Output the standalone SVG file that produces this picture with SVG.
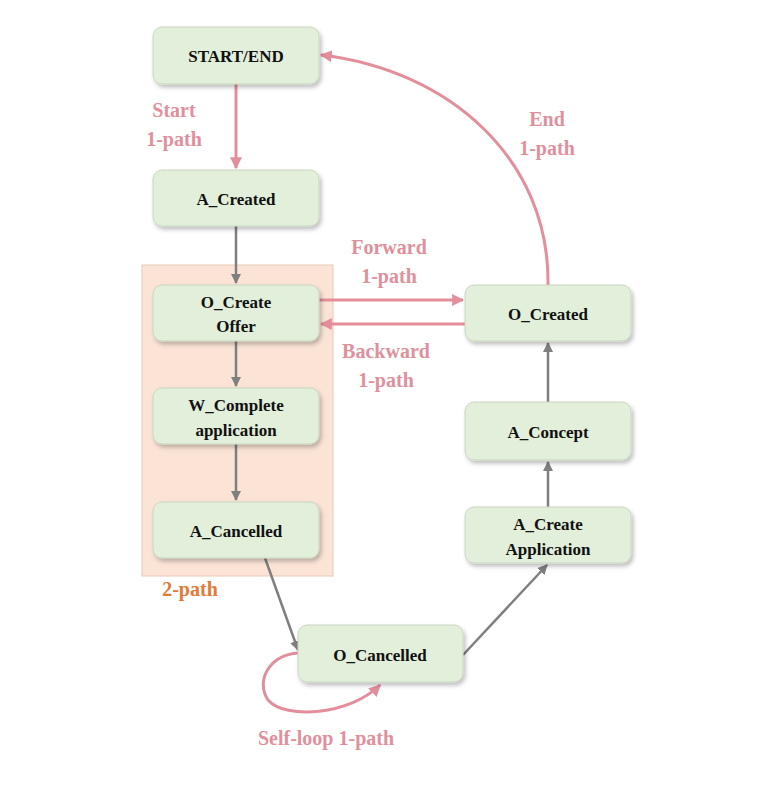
<svg xmlns="http://www.w3.org/2000/svg" width="761" height="789" viewBox="0 0 761 789">
<defs>
<style>
.n rect{fill:#e2efda;stroke:#c9d6c0;stroke-width:1}
.n text{font-family:"Liberation Serif",serif;font-weight:bold;font-size:17px;fill:#111;text-anchor:middle}
.g{stroke:#7f7f7f;stroke-width:2.5;fill:none;marker-end:url(#ag)}
.p{stroke:#e38e9b;stroke-width:3;fill:none;marker-end:url(#ap)}
.l{font-family:"Liberation Serif",serif;font-weight:bold;font-size:20px;fill:#e0909c;text-anchor:middle}
</style>
<marker id="ag" viewBox="0 0 10 10" refX="9" refY="5" markerWidth="4" markerHeight="4" orient="auto"><path d="M0,0L10,5L0,10z" fill="#7f7f7f"/></marker>
<marker id="ap" viewBox="0 0 10 10" refX="9" refY="5" markerWidth="4" markerHeight="4" orient="auto"><path d="M0,0L10,5L0,10z" fill="#e38e9b"/></marker>
<filter id="sh" x="-10%" y="-10%" width="130%" height="140%"><feDropShadow dx="2" dy="3" stdDeviation="2" flood-color="#000" flood-opacity="0.25"/></filter>
</defs>
<rect x="142" y="265" width="191" height="311" fill="#fbe4d6" stroke="#e8c9b8"/>
<text x="190" y="596" style="font-family:'Liberation Serif',serif;font-weight:bold;font-size:20px;fill:#e07b39" text-anchor="middle">2-path</text>
<g id="connectors">
<path class="p" d="M236,84V168"/>
<path class="g" d="M236,226V283"/>
<path class="g" d="M236,341V386"/>
<path class="g" d="M236,444V500"/>
<path class="g" d="M265,558L298,650"/>
<path class="g" d="M463,655L547,565"/>
<path class="g" d="M548,507V462"/>
<path class="g" d="M548,402V343"/>
<path class="p" d="M319,300H463"/>
<path class="p" d="M465,324H321"/>
<path class="p" d="M548,285C550,160 450,70 321,55"/>
<path class="p" d="M298,653C270,655 255,680 268,700C285,720 350,715 380,685"/>
</g>
<text class="l" x="174" y="117">Start</text>
<text class="l" x="174" y="146">1-path</text>
<text class="l" x="547" y="126">End</text>
<text class="l" x="547" y="155">1-path</text>
<text class="l" x="389" y="254">Forward</text>
<text class="l" x="389" y="283">1-path</text>
<text class="l" x="386" y="358">Backward</text>
<text class="l" x="386" y="387">1-path</text>
<text class="l" x="326" y="745">Self-loop 1-path</text>
<g id="n1" class="n"><rect x="153" y="27" width="166" height="57" rx="9" filter="url(#sh)"/><text x="236" y="62">START/END</text></g>
<g id="n2" class="n"><rect x="153" y="170" width="166" height="56" rx="9" filter="url(#sh)"/><text x="236" y="205">A_Created</text></g>
<g id="n3" class="n"><rect x="153" y="285" width="166" height="56" rx="9" filter="url(#sh)"/><text x="236" y="308">O_Create</text><text x="236" y="332">Offer</text></g>
<g id="n4" class="n"><rect x="153" y="388" width="166" height="56" rx="9" filter="url(#sh)"/><text x="236" y="411">W_Complete</text><text x="236" y="436">application</text></g>
<g id="n5" class="n"><rect x="153" y="502" width="166" height="56" rx="9" filter="url(#sh)"/><text x="236" y="537">A_Cancelled</text></g>
<g id="n6" class="n"><rect x="465" y="285" width="166" height="56" rx="9" filter="url(#sh)"/><text x="548" y="320">O_Created</text></g>
<g id="n7" class="n"><rect x="465" y="402" width="166" height="58" rx="9" filter="url(#sh)"/><text x="548" y="438">A_Concept</text></g>
<g id="n8" class="n"><rect x="465" y="507" width="166" height="56" rx="9" filter="url(#sh)"/><text x="548" y="530">A_Create</text><text x="548" y="555">Application</text></g>
<g id="n9" class="n"><rect x="298" y="625" width="165" height="57" rx="9" filter="url(#sh)"/><text x="380" y="661">O_Cancelled</text></g>
</svg>
